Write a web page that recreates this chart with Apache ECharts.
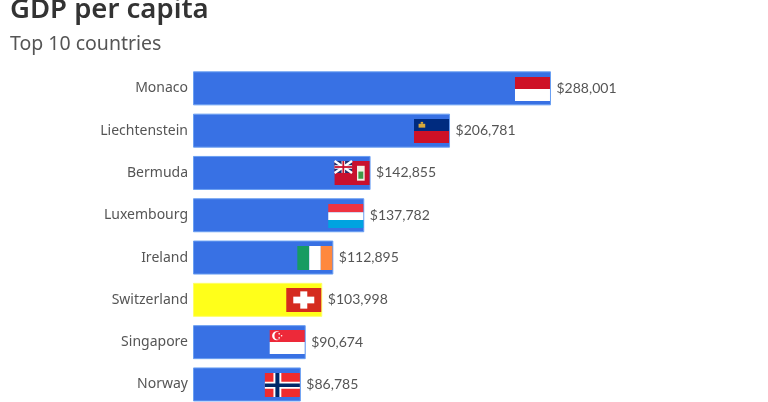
<!DOCTYPE html>
<html>
<head>
<meta charset="utf-8">
<style>html,body{margin:0;padding:0;background:#fff;overflow:hidden}#chart{width:768px;height:402px}</style>
<script src="https://cdn.jsdelivr.net/npm/echarts@6/dist/echarts.min.js"></script>
</head>
<body>
<div id="chart"></div>
<script>
// GDP per capita, top countries, in descending order
const countries = ['Monaco', 'Liechtenstein', 'Bermuda', 'Luxembourg', 'Ireland', 'Switzerland', 'Singapore', 'Norway'];
const gdpPerCapita = [288001, 206781, 142855, 137782, 112895, 103998, 90674, 86785];
const highlighted = 'Switzerland';

const FONT = '"Noto Sans", sans-serif';
const VALUE_FONT = 'Lato, sans-serif';
const FLAG_W = 35, FLAG_H = 24;

// Flag artwork in fractions of the flag's width and height
const r = (x, y, w, h, fill) => ({type: 'rect', x, y, w, h, fill});
const flagArt = {
  Monaco: [r(0, 0, 1, .5, '#ce1126'), r(0, .5, 1, .5, '#ffffff')],
  Liechtenstein: [r(0, 0, 1, .5, '#002b7f'), r(0, .5, 1, .5, '#ce1126'),
    r(.13, .2, .19, .16, '#d9a93a'), r(.19, .12, .07, .08, '#d9a93a')],
  Bermuda: [r(0, 0, 1, 1, '#c8102e'), r(0, 0, .5, .5, '#1f2f6e'),
    {type: 'line', pts: [0, 0, .5, .5], width: 2.4, stroke: '#ffffff'},
    {type: 'line', pts: [.5, 0, 0, .5], width: 2.4, stroke: '#ffffff'},
    {type: 'line', pts: [.25, 0, .25, .5], width: 3.5, stroke: '#ffffff'},
    {type: 'line', pts: [0, .25, .5, .25], width: 3.5, stroke: '#ffffff'},
    {type: 'line', pts: [.25, 0, .25, .5], width: 1.8, stroke: '#c8102e'},
    {type: 'line', pts: [0, .25, .5, .25], width: 1.8, stroke: '#c8102e'},
    r(.64, .2, .22, .62, '#f3f0e6'), r(.68, .44, .14, .3, '#3f9a47')],
  Luxembourg: [r(0, 0, 1, .34, '#ef3340'), r(0, .34, 1, .33, '#ffffff'), r(0, .67, 1, .33, '#00a3e0')],
  Ireland: [r(0, 0, .34, 1, '#169b62'), r(.34, 0, .33, 1, '#ffffff'), r(.67, 0, .33, 1, '#ff883e')],
  Switzerland: [r(0, 0, 1, 1, '#d52b1e'), r(.2, .36, .6, .28, '#ffffff'), r(.4, .14, .2, .72, '#ffffff')],
  Singapore: [r(0, 0, 1, .5, '#ed2939'), r(0, .5, 1, .5, '#ffffff'),
    {type: 'dot', x: .2, y: .24, rad: 4.6, fill: '#ffffff'},
    {type: 'dot', x: .25, y: .24, rad: 4, fill: '#ed2939'},
    {type: 'dot', x: .27, y: .16, rad: .8, fill: '#ffffff'},
    {type: 'dot', x: .34, y: .24, rad: .8, fill: '#ffffff'},
    {type: 'dot', x: .27, y: .33, rad: .8, fill: '#ffffff'}],
  Norway: [r(0, 0, 1, 1, '#ef2b2d'), r(.245, 0, .225, 1, '#ffffff'), r(0, .36, 1, .3, '#ffffff'),
    r(.3, 0, .115, 1, '#002868'), r(0, .44, 1, .14, '#002868')]
};

function renderFlag(params, api) {
  const end = api.coord([api.value(0), api.value(1)]);
  const x0 = end[0] - FLAG_W - 1;
  const y0 = Math.round(end[1] - FLAG_H / 2 + 0.3);
  const px = fx => x0 + fx * FLAG_W;
  const py = fy => y0 + fy * FLAG_H;
  const children = flagArt[countries[params.dataIndex]].map(p => {
    if (p.type === 'rect') {
      return {type: 'rect', shape: {x: px(p.x), y: py(p.y), width: p.w * FLAG_W, height: p.h * FLAG_H}, style: {fill: p.fill}};
    }
    if (p.type === 'dot') {
      return {type: 'circle', shape: {cx: px(p.x), cy: py(p.y), r: p.rad}, style: {fill: p.fill}};
    }
    return {type: 'line', shape: {x1: px(p.pts[0]), y1: py(p.pts[1]), x2: px(p.pts[2]), y2: py(p.pts[3])},
      style: {stroke: p.stroke, lineWidth: p.width}};
  });
  return {type: 'group', children};
}

const chart = echarts.init(document.getElementById('chart'), null, {renderer: 'canvas'});
chart.setOption({
  animation: false,
  backgroundColor: '#ffffff',
  title: {
    text: 'GDP per capita',
    subtext: 'Top 10 countries',
    left: 10,
    top: -4,
    padding: 0,
    itemGap: 10,
    textStyle: {fontFamily: FONT, fontSize: 27.5, fontWeight: 600, color: '#333333'},
    subtextStyle: {fontFamily: FONT, fontSize: 19.5, color: '#555555'}
  },
  grid: {left: 193, top: 67.2, width: 372.9, height: 338.4, outerBoundsMode: 'none'},
  xAxis: {type: 'value', min: 0, max: 300000, show: false},
  yAxis: {
    type: 'category',
    inverse: true,
    data: countries,
    axisLine: {show: false},
    axisTick: {show: false},
    axisLabel: {fontFamily: FONT, fontSize: 14, color: '#555555', margin: 5}
  },
  series: [
    {
      type: 'bar',
      barWidth: 34,
      data: gdpPerCapita.map((v, i) => ({
        value: v,
        itemStyle: countries[i] === highlighted
          ? {color: '#ffff1a', borderColor: '#ffff66', borderWidth: 1}
          : {color: '#3871e4', borderColor: '#6a9ff2', borderWidth: 1}
      })),
      label: {
        show: true,
        position: 'right',
        distance: 5.5,
        fontFamily: VALUE_FONT,
        fontSize: 14,
        color: '#555555',
        formatter: p => '$' + p.value.toLocaleString('en-US')
      }
    },
    {
      type: 'custom',
      renderItem: renderFlag,
      encode: {x: 0, y: 1},
      data: gdpPerCapita.map((v, i) => [v, i]),
      z: 5
    }
  ]
});
</script>
</body>
</html>
